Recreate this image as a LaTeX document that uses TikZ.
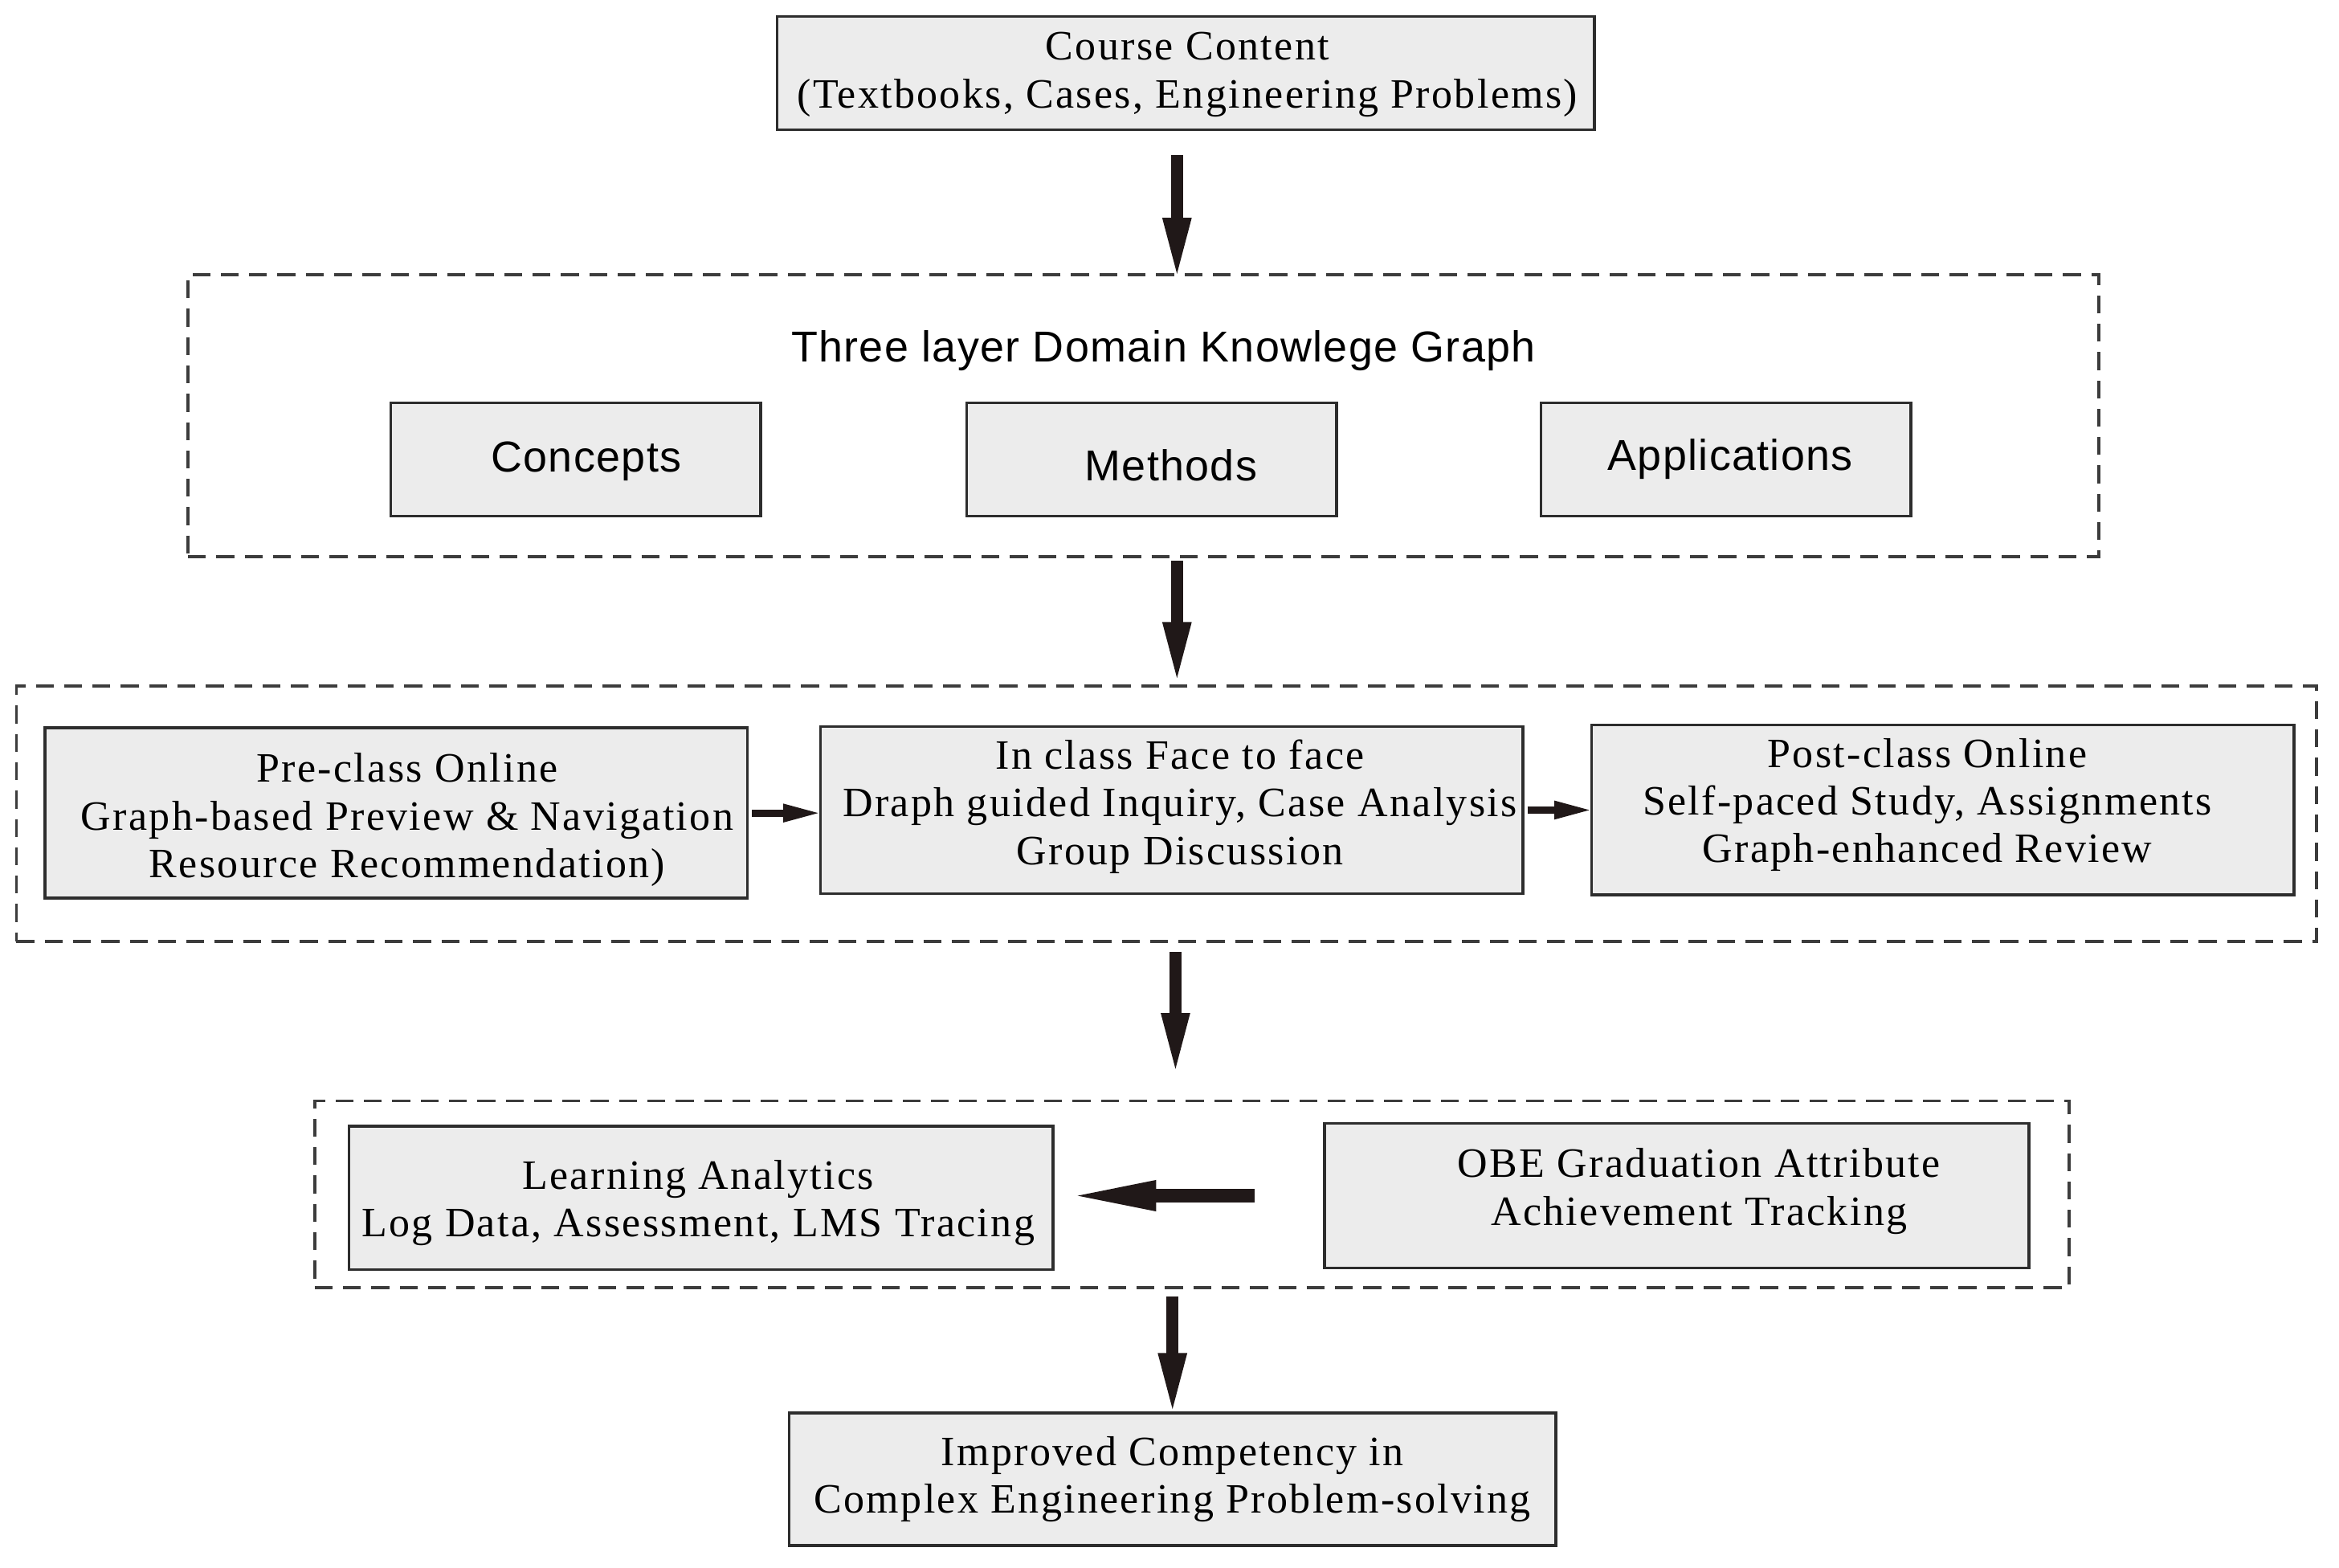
\documentclass[tikz,border=0pt]{standalone}
\usepackage{fontspec}
\setmainfont{Liberation Serif}[LetterSpace=4.5]
\newfontfamily\sansf{Liberation Sans}[LetterSpace=2.5]
\usetikzlibrary{arrows.meta,calc}
\definecolor{boxfill}{RGB}{236,236,236}
\definecolor{boxline}{RGB}{45,45,45}
\definecolor{dashline}{RGB}{60,60,60}
\definecolor{arrowc}{RGB}{32,24,24}
\begin{document}
\begin{tikzpicture}[x=0.5pt,y=-0.5pt,
 wh/.style 2 args={minimum width=#1*0.5pt, minimum height=#2*0.5pt},
 box/.style={draw=boxline, line width=1pt, fill=boxfill, inner sep=0pt},
 grp/.style={draw=dashline, line width=1pt, dash pattern=on 6pt off 3.5pt, inner sep=0pt},
 txt/.style={align=center, font=\fontsize{14}{16}\selectfont, inner sep=0pt},
 stxt/.style={font=\sansf\fontsize{14.5}{17}\selectfont, inner sep=0pt},
 vbig/.style={draw=arrowc, line width=4pt, -{Triangle[length=21pt,width=8.5pt]}},
 hsmall/.style={draw=arrowc, line width=2.5pt, -{Triangle[length=13pt,width=5.5pt]}},
 hbig/.style={draw=arrowc, line width=4.5pt, -{Triangle[length=30pt,width=9pt]}},
]
\fill[white] (0,0) rectangle (1568,1051);
\useasboundingbox (0,0) rectangle (1568,1051);

% dashed groups
\node[grp, wh={1281}{189}] (d1) at (766.5,278.5) {};
\node[grp, wh={1542}{171}] (d2) at (782,545.5) {};
\node[grp, wh={1176}{125}] (d3) at (799,800.5) {};

% boxes
\node[box, wh={548}{76}] (course) at (795,49) {};
\node[txt] (coursetxt) at (796,50) {Course Content\\(Textbooks, Cases, Engineering Problems)};

\node[stxt] (title) at (780,235) {Three layer Domain Knowlege Graph};

\node[box, wh={248}{76}] (concepts) at (386,308) {};
\node[stxt] (conceptstxt) at (393,309) {Concepts};
\node[box, wh={248}{76}] (methods) at (772,308) {};
\node[stxt] (methodstxt) at (785,312) {Methods};
\node[box, wh={248}{76}] (apps) at (1157,308) {};
\node[stxt] (appstxt) at (1160,308) {Applications};

\node[box, wh={471}{114}] (pre) at (265.5,545) {};
\node[txt] (pretxt) at (273,549.5) {Pre-class Online\\Graph-based Preview \& Navigation\\Resource Recommendation)};
\node[box, wh={471}{112}] (inc) at (785.5,543) {};
\node[txt] (inctxt) at (791,540.5) {In class Face to face\\Draph guided Inquiry, Case Analysis\\Group Discussion};
\node[box, wh={471}{114}] (post) at (1302.5,543) {};
\node[txt] (posttxt) at (1292,539.5) {Post-class Online\\Self-paced Study, Assignments\\Graph-enhanced Review};

\node[box, wh={472}{96}] (la) at (470,803) {};
\node[txt] (latxt) at (468,806.5) {Learning Analytics\\Log Data, Assessment, LMS Tracing};
\node[box, wh={472}{97}] (obe) at (1124,801.5) {};
\node[txt] (obetxt) at (1139,798.5) {OBE Graduation Attribute\\Achievement Tracking};

\node[box, wh={514}{89}] (bottom) at (786,991.5) {};
\node[txt] (bottomtxt) at (786,991.5) {Improved Competency in\\Complex Engineering Problem-solving};

% connectors
\coordinate (ax) at (789,0);
\coordinate (ax2) at (788,0);
\coordinate (ax3) at (786,0);
\draw[vbig, shorten <=8pt, shorten >=-2.5pt] (course.south -| ax) -- (d1.north -| ax);
\draw[vbig, shorten <=1pt, shorten >=0pt] (d1.south -| ax) -- (d2.north -| ax);
\draw[vbig, shorten <=3pt, shorten >=8pt] (d2.south -| ax2) -- (d3.north -| ax2);
\draw[vbig, shorten <=2.5pt, shorten >=-1.5pt] (d3.south -| ax3) -- (bottom.north -| ax3);
\draw[hsmall, shorten <=1pt, shorten >=-1pt] (pre.east) -- (pre.east -| inc.west);
\draw[hsmall, shorten <=1pt, shorten >=-1pt] (inc.east) -- (inc.east -| post.west);
\draw[hbig, shorten <=23pt, shorten >=4pt] (obe.west) -- (obe.west -| la.east);
\end{tikzpicture}
\end{document}
